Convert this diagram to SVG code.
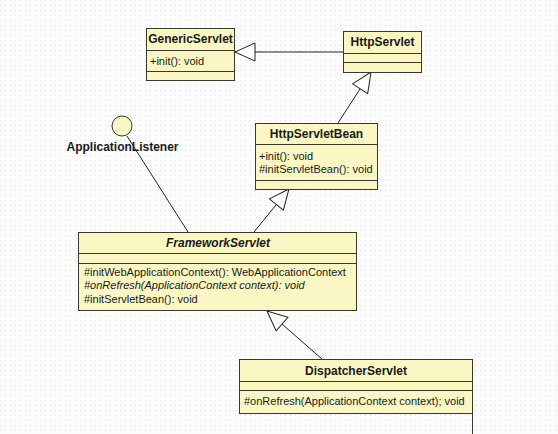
<svg xmlns="http://www.w3.org/2000/svg" width="558" height="434" viewBox="0 0 558 434">
<defs>
<pattern id="grid" width="5" height="5" patternUnits="userSpaceOnUse">
<rect x="0" y="0" width="1" height="1" fill="#dedede"/>
</pattern>
<marker id="gen" markerUnits="userSpaceOnUse" viewBox="0 0 22 20" refX="21" refY="10" markerWidth="22" markerHeight="20" orient="auto">
<path d="M1,1 L21,10 L1,19 Z" fill="#ffffff" stroke="#222" stroke-width="1"/>
</marker>
</defs>
<style>
.box{fill:#faf7c4;stroke:#3a3a2a;stroke-width:1}
.div{stroke:#3a3a2a;stroke-width:1}
.title{font-family:"Liberation Sans",Arial,sans-serif;font-size:12px;font-weight:bold;fill:#1a1a1a;text-anchor:middle}
.m{font-family:"Liberation Sans",Arial,sans-serif;font-size:11px;fill:#1a1a1a}
.it{font-style:italic}
.conn{stroke:#222;stroke-width:1;fill:none}
</style>
<rect x="0" y="0" width="558" height="434" fill="#fcfcfc"/>
<rect x="0" y="0" width="558" height="434" fill="url(#grid)"/>

<g id="connectors">
<path class="conn" d="M343,52 L235,52" marker-end="url(#gen)"/>
<path class="conn" d="M338,123 L371,72" marker-end="url(#gen)"/>
<path class="conn" d="M254,232 L289,189" marker-end="url(#gen)"/>
<path class="conn" d="M322,359 L267,311" marker-end="url(#gen)"/>
<path class="conn" d="M127,136 L188,232"/>
</g>

<g id="GenericServlet">
<rect class="box" x="146.5" y="28.5" width="88" height="52"/>
<line class="div" x1="146.5" y1="50.5" x2="234.5" y2="50.5"/>
<line class="div" x1="146.5" y1="71.5" x2="234.5" y2="71.5"/>
<text class="title" x="190.5" y="43">GenericServlet</text>
<text class="m" x="150" y="65">+init(): void</text>
</g>

<g id="HttpServlet">
<rect class="box" x="343.5" y="31.5" width="78" height="41"/>
<line class="div" x1="343.5" y1="53.5" x2="421.5" y2="53.5"/>
<line class="div" x1="343.5" y1="62.5" x2="421.5" y2="62.5"/>
<text class="title" x="382.5" y="46">HttpServlet</text>
</g>

<g id="HttpServletBean">
<rect class="box" x="255.5" y="123.5" width="122" height="66"/>
<line class="div" x1="255.5" y1="144.5" x2="377.5" y2="144.5"/>
<line class="div" x1="255.5" y1="180.5" x2="377.5" y2="180.5"/>
<text class="title" x="316.5" y="138">HttpServletBean</text>
<text class="m" x="259" y="160">+init(): void</text>
<text class="m" x="259" y="173">#initServletBean(): void</text>
</g>

<g id="ApplicationListener">
<circle cx="122" cy="126" r="10" fill="#faf7c4" stroke="#3a3a2a" stroke-width="1"/>
<text class="title" x="122.5" y="151">ApplicationListener</text>
</g>

<g id="FrameworkServlet">
<rect class="box" x="78.5" y="232.5" width="278" height="78"/>
<line class="div" x1="78.5" y1="253.5" x2="356.5" y2="253.5"/>
<line class="div" x1="78.5" y1="263.5" x2="356.5" y2="263.5"/>
<text class="title it" x="218" y="247">FrameworkServlet</text>
<text class="m" x="84" y="276">#initWebApplicationContext(): WebApplicationContext</text>
<text class="m it" x="84" y="289">#onRefresh(ApplicationContext context): void</text>
<text class="m" x="84" y="303">#initServletBean(): void</text>
</g>

<g id="DispatcherServlet">
<rect class="box" x="239.5" y="359.5" width="233" height="54"/>
<line class="div" x1="239.5" y1="381.5" x2="472.5" y2="381.5"/>
<line class="div" x1="239.5" y1="390.5" x2="472.5" y2="390.5"/>
<line class="div" x1="472.5" y1="413.5" x2="472.5" y2="434"/>
<text class="title" x="356" y="375">DispatcherServlet</text>
<text class="m" x="244" y="405">#onRefresh(ApplicationContext context); void</text>
</g>
</svg>
